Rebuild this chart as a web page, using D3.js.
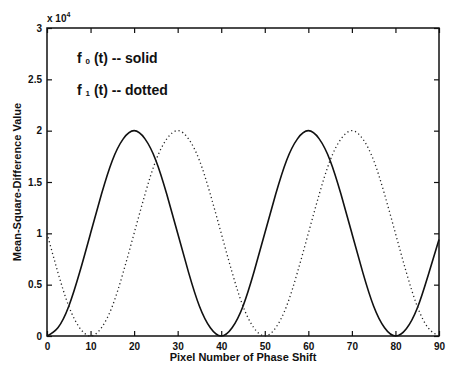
<!DOCTYPE html>
<html>
<head>
<meta charset="utf-8">
<script src="https://d3js.org/d3.v7.min.js"></script>
<style>
  body { margin: 0; background: #fff; }
  text { font-family: "Liberation Sans", Arial, sans-serif; font-weight: bold; fill: #111; }
</style>
</head>
<body>
<div id="chart"></div>
<script>
// phase shift samples (pixels) and values in units of 1e4
const shifts = [0, 2.5, 5, 7.5, 10, 12.5, 15, 17.5, 20, 22.5, 25, 27.5, 30, 32.5, 35, 37.5,
  40, 42.5, 45, 47.5, 50, 52.5, 55, 57.5, 60, 62.5, 65, 67.5, 70, 72.5, 75, 77.5,
  80, 82.5, 85, 87.5, 90];
const f0Values = [0, 0.08, 0.29, 0.62, 1.0, 1.38, 1.71, 1.92, 2.0, 1.92, 1.71, 1.38, 1.0, 0.62, 0.29, 0.08,
  0, 0.08, 0.29, 0.62, 1.0, 1.38, 1.71, 1.92, 2.0, 1.92, 1.71, 1.38, 1.0, 0.62, 0.29, 0.08,
  0, 0.07, 0.27, 0.59, 0.94];
const f1Values = [1.0, 0.62, 0.29, 0.08, 0, 0.08, 0.29, 0.62, 1.0, 1.38, 1.71, 1.92, 2.0, 1.92, 1.71, 1.38,
  1.0, 0.62, 0.29, 0.08, 0, 0.08, 0.29, 0.62, 1.0, 1.38, 1.71, 1.92, 2.0, 1.92, 1.71, 1.38,
  1.0, 0.62, 0.29, 0.08, 0];
const xTicks = [0, 10, 20, 30, 40, 50, 60, 70, 80, 90];
const yTicks = [0, 0.5, 1, 1.5, 2, 2.5, 3];

const width = 474, height = 377;
const margin = {top: 28, right: 35, bottom: 41, left: 47};
const w = width - margin.left - margin.right;
const h = height - margin.top - margin.bottom;

let svg = d3.select("#chart")
    .append("svg")
    .attr("width", width)
    .attr("height", height)
    .append("g")
    .attr("transform", `translate(${margin.left},${margin.top})`);

let x = d3.scaleLinear().domain([0, 90]).range([0, w]);
let y = d3.scaleLinear().domain([0, 3]).range([h, 0]);

// axes with inward ticks on all four sides
function styleAxis(g) {
    g.selectAll(".domain").remove();
    g.selectAll("line").attr("stroke", "#111").attr("stroke-width", 1.2);
    g.selectAll("text").style("font-size", "10px");
}
svg.append("g").attr("transform", `translate(0,${h})`)
    .call(d3.axisBottom(x).tickValues(xTicks).tickSize(-5).tickPadding(7))
    .call(styleAxis);
svg.append("g")
    .call(d3.axisTop(x).tickValues(xTicks).tickSize(-5).tickFormat(""))
    .call(styleAxis);
svg.append("g")
    .call(d3.axisLeft(y).tickValues(yTicks).tickSize(-5).tickPadding(5).tickFormat(d3.format("~g")))
    .call(styleAxis);
svg.append("g").attr("transform", `translate(${w},0)`)
    .call(d3.axisRight(y).tickValues(yTicks).tickSize(-5).tickFormat(""))
    .call(styleAxis);

svg.append("rect")
    .attr("width", w).attr("height", h)
    .attr("fill", "none").attr("stroke", "#111").attr("stroke-width", 1.5);

let line = d3.line().curve(d3.curveNatural)
    .x(function(d) { return x(d[0]); })
    .y(function(d) { return y(d[1]); });

svg.append("path")
    .datum(shifts.map(function(s, i) { return [s, f0Values[i]]; }))
    .attr("d", line)
    .attr("fill", "none").attr("stroke", "#111").attr("stroke-width", 1.6);

svg.append("path")
    .datum(shifts.map(function(s, i) { return [s, f1Values[i]]; }))
    .attr("d", line)
    .attr("fill", "none").attr("stroke", "#222").attr("stroke-width", 1.3)
    .attr("stroke-dasharray", "1.2,2.8");

// exponent label
let expo = svg.append("text").attr("x", 0).attr("y", -6).style("font-size", "10px");
expo.append("tspan").text("x 10");
expo.append("tspan").attr("dy", -5).style("font-size", "7px").text("4");

// legend
function legendLine(yPos, sub, desc) {
    let t = svg.append("text").attr("x", 30).attr("y", yPos).style("font-size", "14px");
    t.append("tspan").text("f ");
    t.append("tspan").attr("dy", 1).style("font-size", "8px").text(sub);
    t.append("tspan").attr("dy", -1).text(" (t) -- " + desc);
}
legendLine(35, "0", "solid");
legendLine(67, "1", "dotted");

svg.append("text")
    .attr("x", w / 2).attr("y", h + 25)
    .style("text-anchor", "middle").style("font-size", "11px")
    .text("Pixel Number of Phase Shift");

svg.append("text")
    .attr("transform", `translate(-26, ${h / 2}) rotate(-90)`)
    .style("text-anchor", "middle").style("font-size", "11px")
    .text("Mean-Square-Difference Value");
</script>
</body>
</html>
